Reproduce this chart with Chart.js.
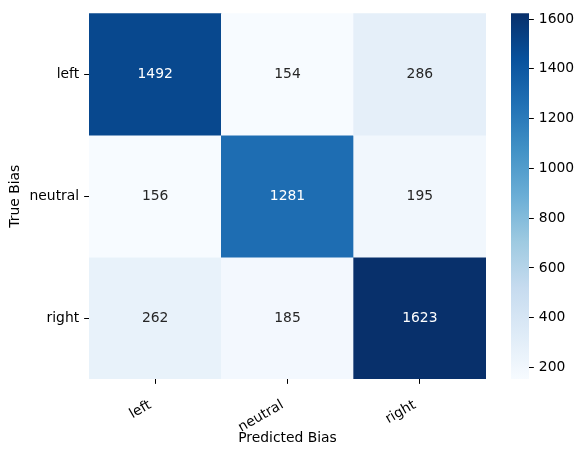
<!DOCTYPE html>
<html><head><meta charset="utf-8">
<script src="https://cdn.jsdelivr.net/npm/chart.js@4.4.0/dist/chart.umd.min.js"></script>
<style>
html,body{margin:0;padding:0;background:#fff;}
#wrap{position:relative;width:584px;height:455px;overflow:hidden;}
</style></head><body>
<div id="wrap">
<canvas id="main" width="500" height="455" style="position:absolute;left:0;top:0;width:500px;height:455px"></canvas>
<canvas id="cbar" width="84" height="455" style="position:absolute;left:500px;top:0;width:84px;height:455px"></canvas>
</div>
<script>
// ---- data ----
const predictedLabels = ['left', 'neutral', 'right'];
const trueLabels = ['left', 'neutral', 'right'];
const rowLeft = [1492, 154, 286];
const rowNeutral = [156, 1281, 195];
const rowRight = [262, 185, 1623];
const colorbarTicks = [200, 400, 600, 800, 1000, 1200, 1400, 1600];
const xTitle = 'Predicted Bias';
const yTitle = 'True Bias';

const matrix = [rowLeft, rowNeutral, rowRight];
const allVals = matrix.flat();
const vmin = Math.min(...allVals), vmax = Math.max(...allVals);

const BLUES = ['#f7fbff','#deebf7','#c6dbef','#9ecae1','#6baed6','#4292c6','#2171b5','#08519c','#08306b'];
function hex2rgb(h){ return [1,3,5].map(i => parseInt(h.substr(i,2),16)); }
function blues(t){
  t = Math.max(0, Math.min(1, t));
  const p = t * 8; const i = Math.min(7, Math.floor(p)); const f = p - i;
  const a = hex2rgb(BLUES[i]), b = hex2rgb(BLUES[i+1]);
  return a.map((v,k) => Math.round(v + (b[k]-v)*f));
}
function colorFor(v){ const c = blues((v - vmin)/(vmax - vmin)); return `rgb(${c[0]},${c[1]},${c[2]})`; }
function lum(v){
  const c = blues((v - vmin)/(vmax - vmin)).map(x => { x/=255; return x <= 0.03928 ? x/12.92 : Math.pow((x+0.055)/1.055, 2.4); });
  return 0.2126*c[0] + 0.7152*c[1] + 0.0722*c[2];
}

const FONT = { family: '"DejaVu Sans", sans-serif', size: 13.89, lineHeight: 1.2 };
const TICK = 4.86;

const cellLabels = {
  id: 'cellLabels',
  afterDatasetsDraw(chart){
    const ctx = chart.ctx;
    ctx.save();
    ctx.font = `${FONT.size}px ${FONT.family}`;
    ctx.textAlign = 'center';
    ctx.textBaseline = 'middle';
    chart.data.datasets.forEach((ds, r) => {
      chart.getDatasetMeta(r).data.forEach((el, c) => {
        const v = matrix[r][c];
        const p = el.getCenterPoint();
        ctx.fillStyle = lum(v) > 0.408 ? '#262626' : '#ffffff';
        ctx.fillText(String(v), p.x, p.y);
      });
    });
    ctx.restore();
  }
};

new Chart(document.getElementById('main'), {
  type: 'bar',
  data: {
    labels: predictedLabels,
    datasets: trueLabels.map((name, r) => ({
      label: name,
      data: predictedLabels.map(() => [r, r + 1]),
      backgroundColor: matrix[r].map(colorFor),
      borderWidth: 0,
      barPercentage: 1,
      categoryPercentage: 1,
      grouped: false
    }))
  },
  options: {
    responsive: false,
    animation: false,
    layout: { padding: { top: 8, right: 14, left: 0, bottom: 0 } },
    plugins: { legend: { display: false }, tooltip: { enabled: false } },
    scales: {
      x: {
        type: 'category',
        offset: true,
        grid: { offset: false, drawOnChartArea: false, tickLength: TICK, color: '#000', lineWidth: 1 },
        border: { display: false },
        ticks: { minRotation: 30, maxRotation: 30, padding: 13, labelOffset: -5, color: '#000', font: FONT, autoSkip: false },
        title: { display: true, text: xTitle, color: '#000', font: FONT, padding: { top: 0, bottom: 8.7 } },
        afterFit: s => { s.height = 76; }
      },
      y: {
        type: 'linear',
        min: 0, max: 3, reverse: true,
        afterBuildTicks: s => { s.ticks = trueLabels.map((_, i) => ({ value: i + 0.5 })); },
        grid: { drawOnChartArea: false, tickLength: TICK, color: '#000', lineWidth: 1 },
        border: { display: false },
        ticks: { padding: 5, color: '#000', font: FONT, callback: (v, i) => trueLabels[i] },
        title: { display: true, text: yTitle, color: '#000', font: FONT, padding: { top: 6.7, bottom: 0 } },
        afterFit: s => { s.width = 89; }
      }
    }
  },
  plugins: [cellLabels]
});

new Chart(document.getElementById('cbar'), {
  type: 'bar',
  data: {
    labels: ['colorbar'],
    datasets: [{
      data: [[vmin, vmax]],
      backgroundColor: (c) => {
        const ch = c.chart; const ys = ch.scales.y;
        if (!ys || !ch.chartArea) return BLUES[4];
        const g = ch.ctx.createLinearGradient(0, ys.getPixelForValue(vmin), 0, ys.getPixelForValue(vmax));
        BLUES.forEach((col, i) => g.addColorStop(i / 8, col));
        return g;
      },
      borderWidth: 0,
      barPercentage: 1,
      categoryPercentage: 1
    }]
  },
  options: {
    responsive: false,
    animation: false,
    layout: { padding: { top: 8, left: 11, right: 0, bottom: 76 } },
    plugins: { legend: { display: false }, tooltip: { enabled: false } },
    scales: {
      x: { display: false, offset: true },
      y: {
        position: 'right',
        min: vmin, max: vmax,
        afterBuildTicks: s => { s.ticks = colorbarTicks.map(v => ({ value: v })); },
        grid: { drawOnChartArea: false, tickLength: TICK, color: '#000', lineWidth: 1 },
        border: { display: false },
        ticks: { padding: 5, color: '#000', font: FONT, callback: v => String(v) },
        afterFit: s => { s.width = 55; }
      }
    }
  }
});
</script>
</body></html>
